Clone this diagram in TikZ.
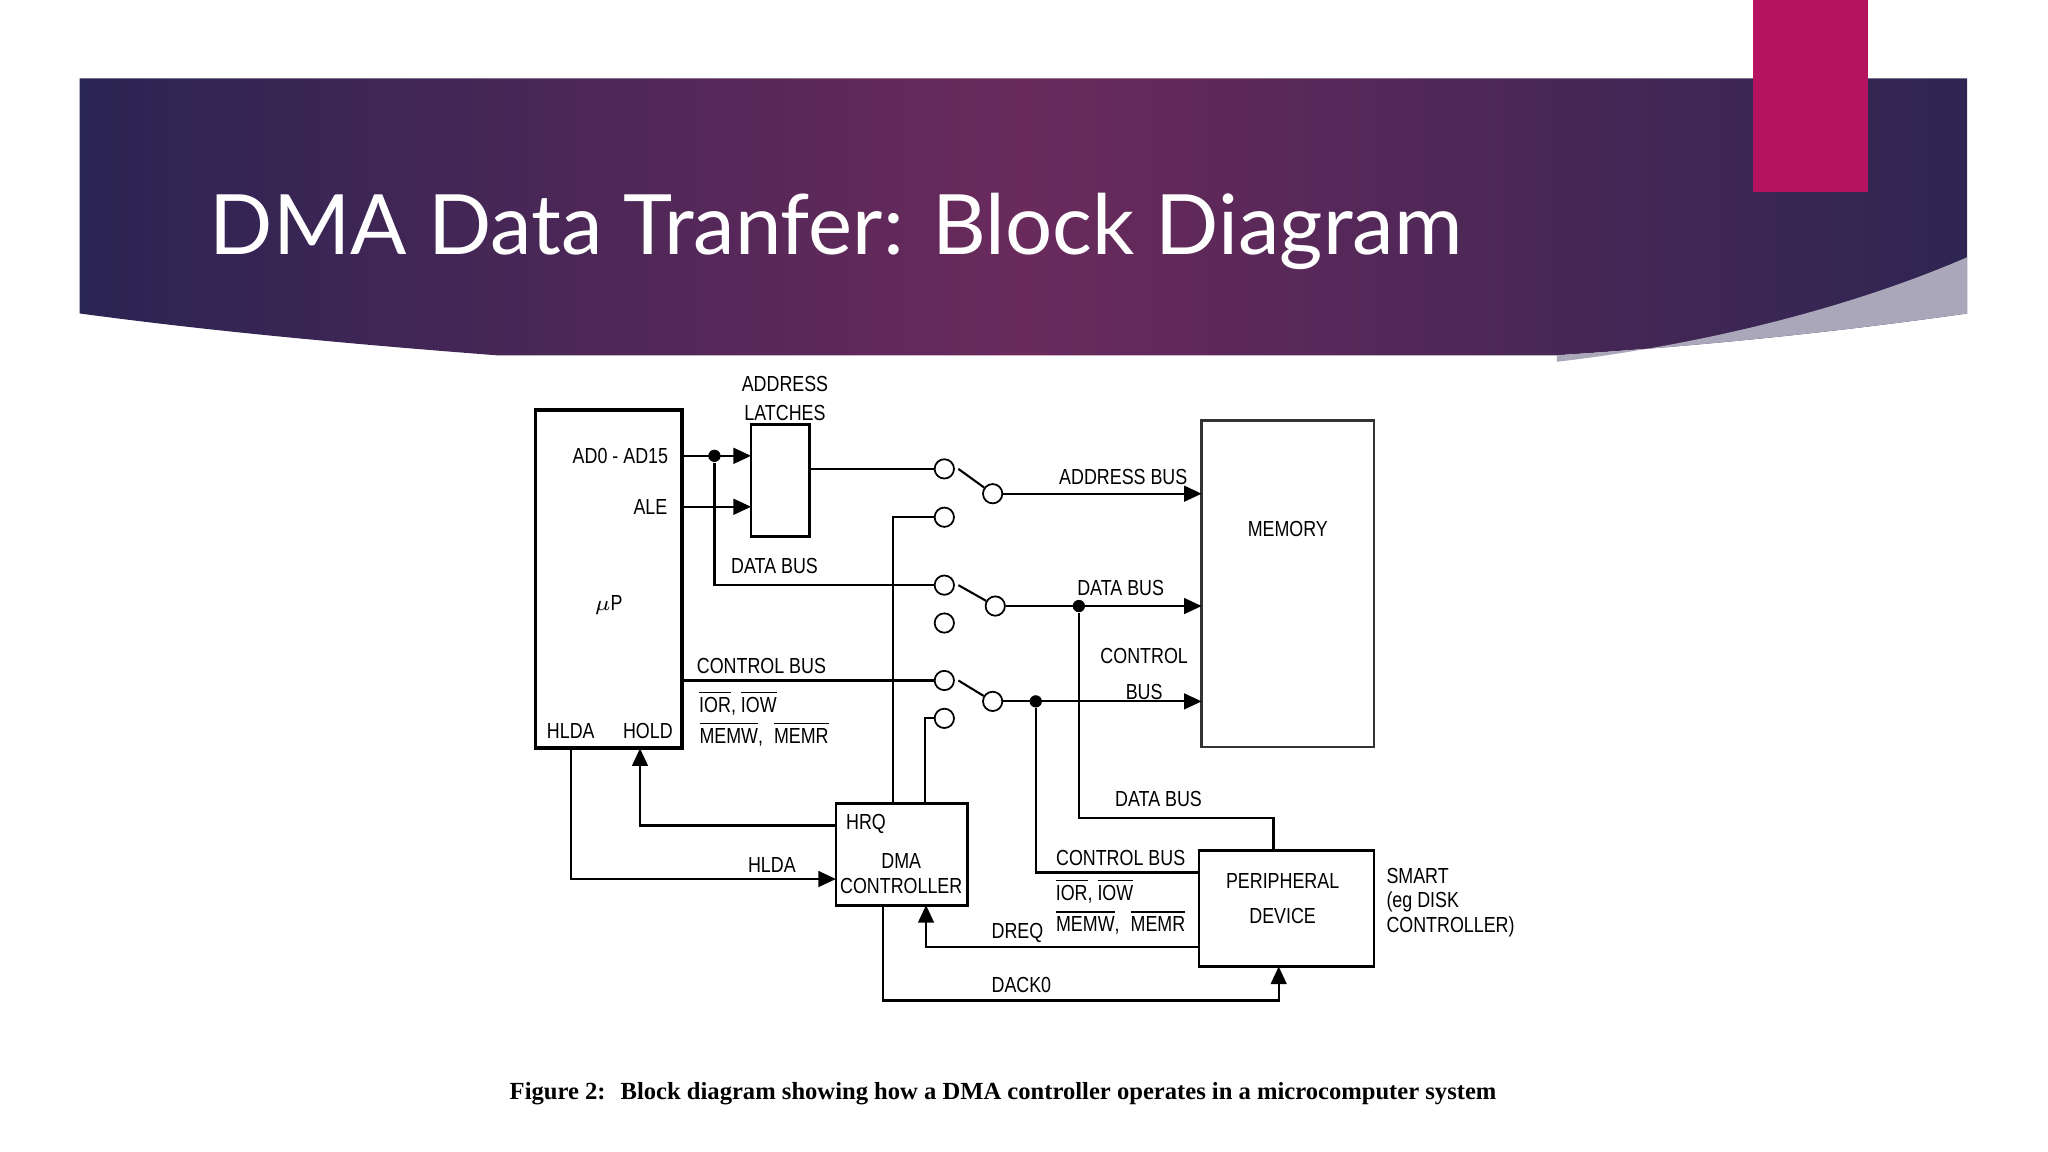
\documentclass[tikz,border=0pt]{standalone}
\usepackage{fontspec}
\setmainfont{Liberation Sans}
\newfontfamily\titlefont{Lato}
\newfontfamily\capfont{Liberation Serif}
\newfontfamily\blockfont{Liberation Sans}[FakeStretch=0.82]
\usetikzlibrary{arrows.meta}
\definecolor{bannerL}{HTML}{2A2452}
\definecolor{bannerM}{HTML}{6A2A5C}
\definecolor{bannerR}{HTML}{2E2552}
\definecolor{pinkbar}{HTML}{B5135F}
\tikzset{
  blk/.style={draw, line width=0.8pt, inner sep=0pt},
  lbl/.style={font=\blockfont\fontsize{6.2}{7}\selectfont, inner sep=0pt},
  wire/.style={line width=0.6pt},
  arr/.style={wire, -{Triangle[length=5pt,width=4.5pt]}},
  pin/.style={circle, draw, line width=0.5pt, fill=white, minimum size=5.5pt, inner sep=0pt},
  dot/.style={circle, fill, minimum size=3.5pt, inner sep=0pt}
}
\begin{document}
\begin{tikzpicture}[x=0.013061cm, y=-0.013061cm]
\useasboundingbox (0,0) rectangle (1568,882);
\fill[white] (0,0) rectangle (1568,882);

% banner
\shade[left color=bannerL, right color=bannerR, middle color=bannerM]
  (61,60) -- (1506,60) -- (1506,240) .. controls (1400,255) and (1300,265) .. (1192,272)
  -- (380,272) .. controls (250,262) and (150,252) .. (61,240) -- cycle;
\fill[white!60!bannerL] (1192,277) .. controls (1320,262) and (1430,230) .. (1506,197) -- (1506,240) .. controls (1400,255) and (1300,265) .. (1192,272) -- cycle;
\fill[pinkbar] (1342,0) rectangle (1430,147);
\node[anchor=base west, text=white, inner sep=0pt, font=\titlefont\fontsize{23.7}{28}\selectfont] (title) at (160,195) {DMA Data Tranfer: Block Diagram};

% blocks
\node[blk, line width=1.1pt, minimum width=1.463cm, minimum height=3.383cm] (cpu) at (466,443.5) {};
\node[blk, minimum width=0.588cm, minimum height=1.123cm] (latches) at (597.5,368) {};
\node[blk, draw=black!80, minimum width=1.724cm, minimum height=3.265cm] (memory) at (986,447) {};
\node[blk, minimum width=1.319cm, minimum height=1.019cm] (dmac) at (690.5,654) {};
\node[blk, minimum width=1.750cm, minimum height=1.162cm] (periph) at (985,695.5) {};

\node[lbl] (ad) at (475,349) {AD0 - AD15};
\node[lbl] (ale) at (498,388) {ALE};
\node[lbl] (up) at (466,463) {$\mu$P};
\node[lbl] (hldaA) at (437,560) {HLDA};
\node[lbl] (hold) at (496,560) {HOLD};
\node[lbl] (addr) at (601,294) {ADDRESS};
\node[lbl] (latch) at (601,316) {LATCHES};
\node[lbl] (mem) at (986,405) {MEMORY};
\node[lbl] (hrq) at (663,631) {HRQ};
\node[lbl, align=center] (dma) at (690,669) {DMA\\CONTROLLER};
\node[lbl, align=center] (per) at (982,688) {PERIPHERAL\\[3pt]DEVICE};
\node[lbl, align=left, anchor=west] (smart) at (1061,691) {SMART\\(eg DISK\\CONTROLLER)};

% switch contacts
\node[pin] (a1) at (723,359) {};
\node[pin] (a2) at (723,396) {};
\node[pin] (ap) at (760,378) {};
\node[pin] (d1) at (723,448) {};
\node[pin] (d2) at (723,477) {};
\node[pin] (dp) at (762,464) {};
\node[pin] (c1) at (723,521) {};
\node[pin] (c2) at (723,550) {};
\node[pin] (cp) at (760,537) {};
\draw[wire] (ap) -- ([xshift=4pt]a1.center);
\draw[wire] (dp) -- ([xshift=4pt]d1.center);
\draw[wire] (cp) -- ([xshift=4pt]c1.center);

% processor side
\node[dot] (j1) at (547,349) {};
\draw[arr] (522,349) -- (575,349);
\draw[arr] (522,388) -- (575,388);
\draw[wire] (j1) -- (547,448) -- (d1);
\draw[wire] (620,359) -- (a1);
\draw[wire] (522,521) -- (c1);
\node[lbl] (dbl) at (593,433) {DATA BUS};
\node[lbl] (cbl) at (583,510) {CONTROL BUS};
\node[lbl] (iol) at (565,538) {$\overline{\mbox{IOR}}$, $\overline{\mbox{IOW}}$};
\node[lbl] (mml) at (585,562) {$\overline{\mbox{MEMW}}$,\; $\overline{\mbox{MEMR}}$};

% memory side
\draw[arr] (ap) -- (920,378);
\draw[arr] (dp) -- (920,464);
\draw[arr] (cp) -- (920,537);
\node[dot] (j2) at (826,464) {};
\node[dot] (j3) at (793,537) {};
\node[lbl] (abr) at (860,365) {ADDRESS BUS};
\node[lbl] (dbr) at (858,450) {DATA BUS};
\node[lbl, align=center] (cbr) at (876,516) {CONTROL\\[3pt]BUS};

% dma links
\draw[wire] (a2) -- (684,396) -- (684,615);
\draw[wire] (c2) -- (708,550) -- (708,615);
\draw[arr] (640,632) -- (490,632) -- (490,573);
\draw[arr] (437,573) -- (437,673) -- (640,673);
\node[lbl] (hldab) at (591,662) {HLDA};

% peripheral links
\draw[wire] (j2) -- (826,626) -- (975,626) -- (975,651);
\draw[wire] (j3) -- (793,668) -- (918,668);
\draw[arr] (918,725) -- (709,725) -- (709,693);
\draw[arr] (676,693) -- (676,766) -- (979,766) -- (979,740);
\node[lbl] (dbp) at (887,612) {DATA BUS};
\node[lbl] (cbp) at (858,657) {CONTROL BUS};
\node[lbl] (iop) at (838,682) {$\overline{\mbox{IOR}}$, $\overline{\mbox{IOW}}$};
\node[lbl] (mmp) at (858,706) {$\overline{\mbox{MEMW}}$,\; $\overline{\mbox{MEMR}}$};
\node[lbl] (dreq) at (779,714) {DREQ};
\node[lbl] (dack) at (782,754) {DACK0};

\node[font=\capfont\bfseries\fontsize{7}{9}\selectfont, inner sep=0pt] (cap) at (768,837) {Figure 2:\; Block diagram showing how a DMA controller operates in a microcomputer system};
\end{tikzpicture}
\end{document}
